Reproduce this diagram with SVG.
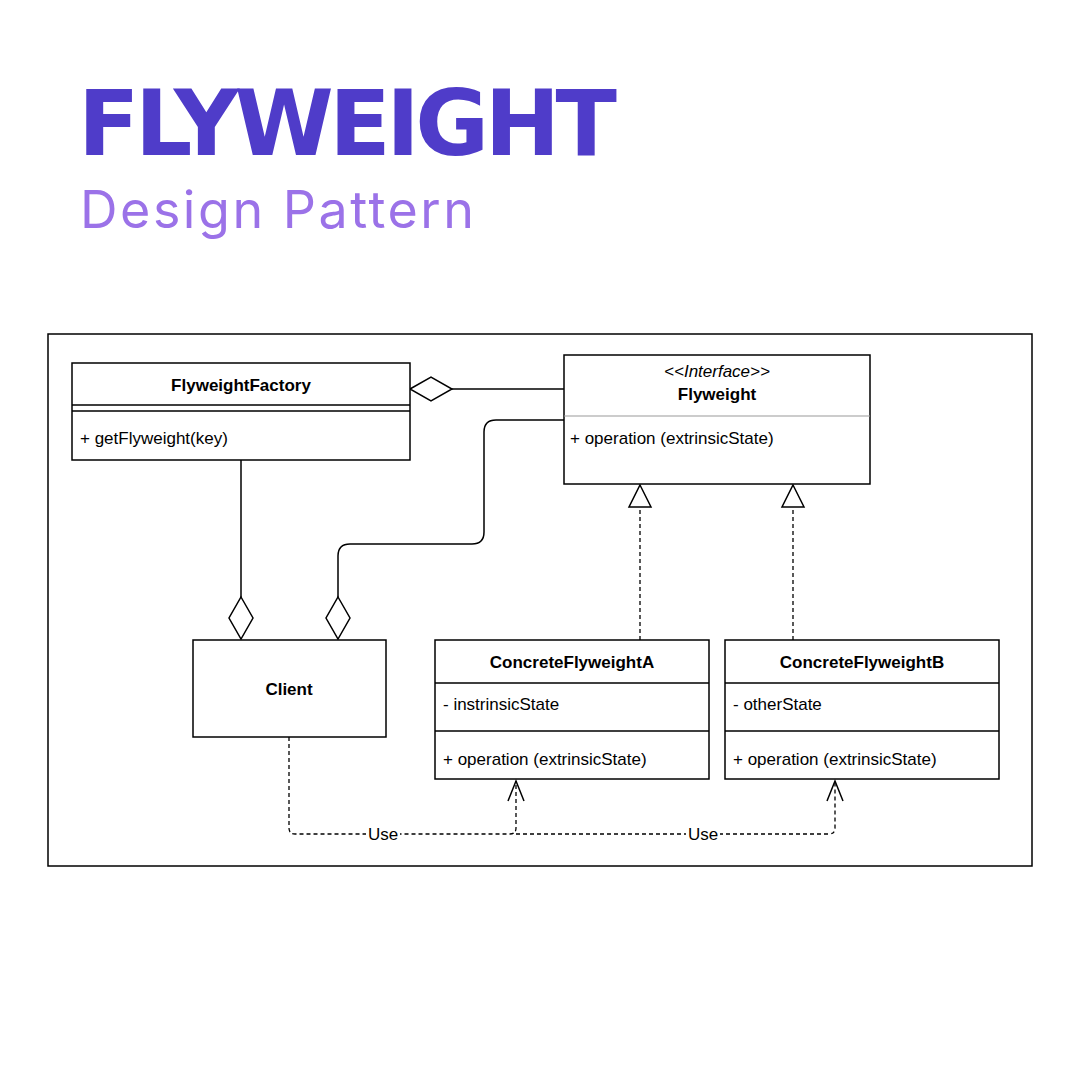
<svg xmlns="http://www.w3.org/2000/svg" width="1080" height="1080" viewBox="0 0 1080 1080">
<style>
.box{fill:#fff;stroke:#000;stroke-width:1.5}
.ln{fill:none;stroke:#000;stroke-width:1.5}
.dash{fill:none;stroke:#000;stroke-width:1.3;stroke-dasharray:4 3}
.t{font-family:"Liberation Sans",Arial,sans-serif;font-size:17px;fill:#000}
.b{font-weight:bold}
</style>
<rect width="1080" height="1080" fill="#fff"/>
<text x="78" y="155" font-family="'DejaVu Sans',sans-serif" font-weight="900" font-size="90" fill="#4f3cc9" letter-spacing="6" textLength="545">FLYWEIGHT</text>
<text x="80" y="228" font-family="Inter,'Noto Sans',sans-serif" font-size="52" fill="#9b72e8" textLength="394">Design Pattern</text>
<rect x="48" y="334" width="984" height="532" fill="#fff" stroke="#000" stroke-width="1.5"/>
<g id="connectors">
<path class="ln" d="M452,389 H564"/>
<polygon class="box" points="410,389 431,377 452,389 431,401"/>
<path class="ln" d="M564,420 H496 Q484,420 484,432 V532 Q484,544 472,544 H350 Q338,544 338,556 V597"/>
<polygon class="box" points="338,597 350,618 338,639 326,618"/>
<path class="ln" d="M241,460 V597"/>
<polygon class="box" points="241,597 253,618 241,639 229,618"/>
<path class="dash" d="M640,640 V507"/>
<polygon class="box" points="640,485 651,507 629,507"/>
<path class="dash" d="M793,640 V507"/>
<polygon class="box" points="793,485 804,507 782,507"/>
<path class="dash" d="M289,737 V828 Q289,834 295,834 H510 Q516,834 516,828 V781"/>
<path class="dash" d="M516,834 H829 Q835,834 835,828 V781"/>
<path class="ln" d="M508,801 L516,781 L524,801 M827,801 L835,781 L843,801"/>
<rect x="366" y="825" width="34" height="18" fill="#fff"/>
<text class="t" x="383" y="840" text-anchor="middle" font-size="15">Use</text>
<rect x="686" y="825" width="34" height="18" fill="#fff"/>
<text class="t" x="703" y="840" text-anchor="middle" font-size="15">Use</text>
</g>
<g id="factory">
<rect class="box" x="72" y="363" width="338" height="97"/>
<path class="ln" d="M72,405 H410 M72,411 H410"/>
<text class="t b" x="241" y="391" text-anchor="middle">FlyweightFactory</text>
<text class="t" x="80" y="444">+ getFlyweight(key)</text>
</g>
<g id="flyweight">
<rect class="box" x="564" y="355" width="306" height="129"/>
<path d="M564,416 H870" stroke="#999" stroke-width="1.2"/>
<text class="t" x="717" y="377" text-anchor="middle" font-style="italic" font-size="16">&lt;&lt;Interface&gt;&gt;</text>
<text class="t b" x="717" y="400" text-anchor="middle">Flyweight</text>
<text class="t" x="570" y="444">+ operation (extrinsicState)</text>
</g>
<g id="client">
<rect class="box" x="193" y="640" width="193" height="97"/>
<text class="t b" x="289" y="695" text-anchor="middle">Client</text>
</g>
<g id="cfa">
<rect class="box" x="435" y="640" width="274" height="139"/>
<path class="ln" d="M435,683 H709 M435,731 H709"/>
<text class="t b" x="572" y="668" text-anchor="middle">ConcreteFlyweightA</text>
<text class="t" x="443" y="710">- instrinsicState</text>
<text class="t" x="443" y="765">+ operation (extrinsicState)</text>
</g>
<g id="cfb">
<rect class="box" x="725" y="640" width="274" height="139"/>
<path class="ln" d="M725,683 H999 M725,731 H999"/>
<text class="t b" x="862" y="668" text-anchor="middle">ConcreteFlyweightB</text>
<text class="t" x="733" y="710">- otherState</text>
<text class="t" x="733" y="765">+ operation (extrinsicState)</text>
</g>
</svg>
